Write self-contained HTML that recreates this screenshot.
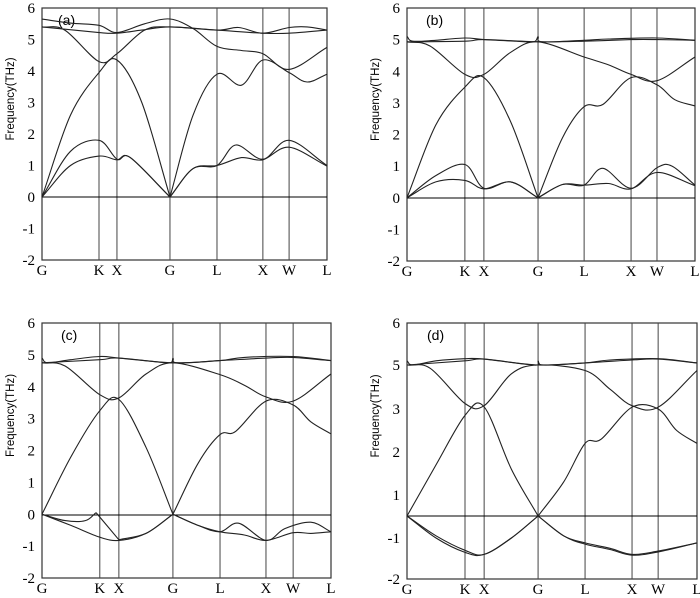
<!DOCTYPE html>
<html><head><meta charset="utf-8">
<style>
html,body{margin:0;padding:0;background:#fff;}
svg{display:block;}
.t{font-family:"Liberation Serif",serif;font-size:15px;fill:#000;}
.yl{font-family:"Liberation Sans",sans-serif;font-size:11.5px;fill:#000;}
.pl{font-family:"Liberation Sans",sans-serif;font-size:14px;fill:#000;}
</style></head><body>
<svg id="s" width="700" height="598" viewBox="0 0 700 598" xmlns="http://www.w3.org/2000/svg"></svg>
<script>
var S=document.getElementById('s');var NS='http://www.w3.org/2000/svg';
function el(t,a,txt){var e=document.createElementNS(NS,t);for(var k in a)e.setAttribute(k,a[k]);if(txt!=null)e.textContent=txt;S.appendChild(e);return e;}
function spline(pts){
 var segs=[],cur=[pts[0]];
 for(var i=1;i<pts.length;i++){cur.push(pts[i]);if(pts[i][2]&&i<pts.length-1){segs.push(cur);cur=[pts[i]];}}
 segs.push(cur);var d='';
 segs.forEach(function(p){d+='M'+p[0][0]+','+p[0][1];var n=p.length;
  for(var i=0;i<n-1;i++){var p1=p[i],p2=p[i+1];
   var p0=p[i-1]||[2*p1[0]-p2[0],2*p1[1]-p2[1]];
   var p3=p[i+2]||[2*p2[0]-p1[0],2*p2[1]-p1[1]];
   var c1x=p1[0]+(p2[0]-p0[0])/6,c1y=p1[1]+(p2[1]-p0[1])/6,c2x=p2[0]-(p3[0]-p1[0])/6,c2y=p2[1]-(p3[1]-p1[1])/6;
   d+='C'+c1x.toFixed(1)+','+c1y.toFixed(1)+' '+c2x.toFixed(1)+','+c2y.toFixed(1)+' '+p2[0].toFixed(1)+','+p2[1].toFixed(1);}});
 return d;}
function panel(P){
 var L=P.l,R=P.r,W=R-L;
 function X(f){return L+f*W;}
 var Y=P.Y;
 el('rect',{x:L,y:P.top,width:W,height:P.bot-P.top,fill:'none',stroke:'#333','stroke-width':1.2});
 P.sym.forEach(function(f,i){var x=X(f);
   if(i>0&&i<P.sym.length-1)el('line',{x1:x,y1:P.top,x2:x,y2:P.bot,stroke:'#444','stroke-width':1});
   el('text',{x:x,y:P.bot+15,'text-anchor':'middle','class':'t'},P.lab[i]);});
 el('line',{x1:L,y1:P.zero,x2:R,y2:P.zero,stroke:'#000','stroke-width':1});
 P.ticks.forEach(function(t){el('text',{x:L-7,y:t[1]+5,'text-anchor':'end','class':'t'},t[0]);});
 var cy=(P.top+P.bot)/2-35;
 el('text',{x:0,y:0,'class':'yl','text-anchor':'middle',transform:'translate('+(L-28)+','+cy+') rotate(-90)'},'Frequency(THz)');
 el('text',{x:P.px,y:P.top+17,'class':'pl'},P.name);
 P.bands.forEach(function(b){var pts=b.map(function(p){return [X(p[0]),Y(p[1]),p[2]];});
   el('path',{d:spline(pts),fill:'none',stroke:'#222','stroke-width':1.1});});
}
function lin(top,bot){return function(v){return top+(6-v)*(bot-top)/8;};}
function ticksLin(top,bot){var a=[];for(var v=6;v>=-2;v--)a.push([String(v),top+(6-v)*(bot-top)/8]);return a;}
var labs=['G','K','X','G','L','X','W','L'];
var sa=[0,0.2,0.263,0.449,0.614,0.775,0.867,1];
panel({name:'(a)',px:58,l:42,r:327,top:8,bot:260,zero:197,Y:lin(8,260),ticks:ticksLin(8,260),sym:sa,lab:labs,bands:[
 [[0,5.65],[0.1,5.52],[0.2,5.45],[0.263,5.22],[0.36,5.5],[0.449,5.65],[0.53,5.35],[0.614,4.78],[0.7,4.65],[0.775,4.55],[0.867,4.05],[1,4.75]],
 [[0,5.4],[0.2,5.22],[0.263,5.2],[0.35,5.3],[0.449,5.4],[0.614,5.3],[0.69,5.38],[0.775,5.2],[0.867,5.38],[0.93,5.4],[1,5.3]],
 [[0,5.4],[0.08,5.3],[0.2,4.3],[0.263,4.55],[0.36,5.3],[0.449,5.4],[0.614,5.3],[0.775,5.2],[0.867,5.2],[1,5.3]],
 [[0,0],[0.1,2.6],[0.2,3.95],[0.263,4.35],[0.35,3.0],[0.449,0,1],[0.53,2.6],[0.614,3.9],[0.7,3.55],[0.775,4.35],[0.867,3.95],[0.93,3.65],[1,3.9]],
 [[0,0],[0.1,1.45],[0.2,1.8],[0.263,1.2],[0.31,1.25],[0.449,0,1],[0.53,0.9],[0.614,1.0],[0.68,1.65],[0.775,1.2],[0.867,1.8],[1,1.0]],
 [[0,0],[0.1,1.0],[0.2,1.3],[0.263,1.18],[0.31,1.25],[0.449,0,1],[0.53,0.9],[0.614,1.0],[0.7,1.25],[0.775,1.18],[0.867,1.58],[1,0.98]]
]});
var sb=[0,0.201,0.267,0.455,0.615,0.778,0.868,1];
panel({name:'(b)',px:426,l:407,r:695,top:8,bot:261,zero:198,Y:lin(8,261),ticks:ticksLin(8,261),sym:sb,lab:labs,bands:[
 [[0,5.1],[0.02,4.95],[0.1,4.98],[0.201,5.05],[0.267,5.0],[0.38,4.95],[0.44,4.93],[0.455,5.1,1],[0.47,4.93],[0.615,4.98],[0.7,5.02],[0.868,5.05],[1,4.98]],
 [[0,4.93],[0.201,4.95],[0.267,5.0],[0.455,4.93],[0.615,4.95],[0.778,5.0],[0.868,5.0],[1,4.98]],
 [[0,4.93],[0.08,4.8],[0.201,3.9],[0.267,3.9],[0.36,4.6],[0.455,4.93],[0.615,4.45],[0.7,4.2],[0.778,3.9],[0.868,3.7],[1,4.45]],
 [[0,0],[0.1,2.3],[0.201,3.5],[0.267,3.8],[0.36,2.4],[0.455,0,1],[0.54,1.9],[0.615,2.88],[0.68,2.95],[0.778,3.8],[0.868,3.57],[0.93,3.1],[1,2.9]],
 [[0,0],[0.1,0.7],[0.201,1.05],[0.267,0.3],[0.36,0.5],[0.455,0,1],[0.54,0.42],[0.615,0.4],[0.68,0.93],[0.778,0.3],[0.868,0.95],[0.92,1.0],[1,0.4]],
 [[0,0],[0.1,0.5],[0.201,0.55],[0.267,0.28],[0.36,0.5],[0.455,0,1],[0.54,0.42],[0.615,0.4],[0.7,0.45],[0.778,0.28],[0.868,0.8],[1,0.38]]
]});
var sc=[0,0.2,0.266,0.453,0.616,0.775,0.869,1];
panel({name:'(c)',px:61,l:42,r:331,top:323,bot:578,zero:515,Y:lin(323,578),ticks:ticksLin(323,578),sym:sc,lab:labs,bands:[
 [[0,4.9],[0.02,4.75],[0.1,4.85],[0.2,4.95],[0.266,4.9],[0.4,4.78],[0.445,4.75],[0.453,4.9,1],[0.47,4.75],[0.616,4.82],[0.7,4.92],[0.869,4.95],[1,4.82]],
 [[0,4.75],[0.2,4.85],[0.266,4.9],[0.453,4.75],[0.616,4.82],[0.775,4.9],[0.869,4.92],[1,4.82]],
 [[0,4.75],[0.08,4.65],[0.2,3.75],[0.266,3.65],[0.36,4.4],[0.453,4.75],[0.616,4.38],[0.7,4.05],[0.775,3.68],[0.869,3.55],[1,4.4]],
 [[0,0],[0.1,1.8],[0.2,3.25],[0.266,3.6],[0.36,2.1],[0.453,0,1],[0.54,1.6],[0.616,2.5],[0.67,2.6],[0.775,3.55],[0.869,3.43],[0.93,2.9],[1,2.52]],
 [[0,0],[0.08,-0.2],[0.15,-0.2],[0.187,0.05,1],[0.266,-0.8,1],[0.36,-0.6],[0.453,0,1],[0.54,-0.35],[0.616,-0.55],[0.68,-0.28],[0.775,-0.82],[0.84,-0.45],[0.93,-0.25],[1,-0.55]],
 [[0,0],[0.1,-0.35],[0.2,-0.72],[0.266,-0.82],[0.36,-0.6],[0.453,0,1],[0.54,-0.35],[0.616,-0.55],[0.7,-0.65],[0.775,-0.82],[0.869,-0.58],[0.93,-0.6],[1,-0.55]]
]});
var dm=[[6,323],[5,365],[3,409],[2,452],[1,495],[0,516],[-1,538],[-2,579]];
function Yd(v){for(var i=0;i<dm.length-1;i++){var a=dm[i],b=dm[i+1];if(v<=a[0]&&v>=b[0])return a[1]+(a[0]-v)/(a[0]-b[0])*(b[1]-a[1]);}return 516;}
var sd=[0,0.2,0.266,0.452,0.614,0.776,0.866,1];
panel({name:'(d)',px:427,l:407,r:697,top:323,bot:579,zero:516,Y:Yd,ticks:[['6',323],['5',365],['3',409],['2',452],['1',495],['-1',538],['-2',579]],sym:sd,lab:labs,bands:[
 [[0,5.1],[0.02,5.0],[0.1,5.1],[0.2,5.15],[0.266,5.14],[0.44,5.0],[0.452,5.1,1],[0.47,5.0],[0.614,5.05],[0.7,5.12],[0.866,5.15],[1,5.05]],
 [[0,5.0],[0.2,5.1],[0.266,5.14],[0.452,5.0],[0.614,5.05],[0.776,5.12],[0.866,5.14],[1,5.05]],
 [[0,5.0],[0.08,4.85],[0.2,3.25],[0.266,3.15],[0.36,4.6],[0.452,5.0],[0.614,4.75],[0.7,3.9],[0.776,3.15],[0.866,3.08],[1,4.75]],
 [[0,0],[0.1,1.7],[0.2,2.85],[0.266,3.1],[0.36,1.6],[0.452,0,1],[0.54,1.3],[0.614,2.2],[0.67,2.3],[0.776,3.08],[0.866,3.0],[0.93,2.5],[1,2.2]],
 [[0,0],[0.1,-0.9],[0.2,-1.3],[0.266,-1.4],[0.36,-1.0],[0.452,0,1],[0.54,-0.9],[0.614,-1.12],[0.7,-1.25],[0.776,-1.4],[0.866,-1.32],[1,-1.12]],
 [[0,0],[0.1,-1.0],[0.2,-1.35],[0.266,-1.4],[0.36,-1.0],[0.452,0,1],[0.54,-0.9],[0.614,-1.15],[0.7,-1.28],[0.776,-1.42],[0.866,-1.34],[1,-1.12]]
]});
</script>
</body></html>
